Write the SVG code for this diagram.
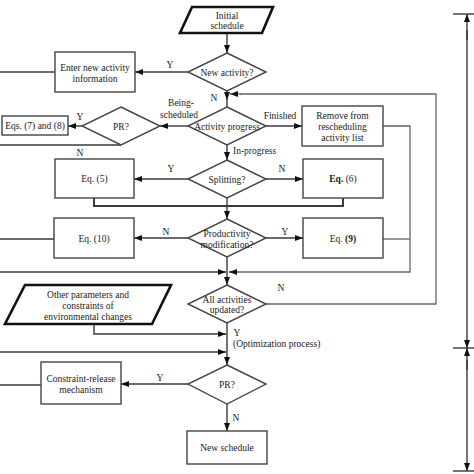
<svg xmlns="http://www.w3.org/2000/svg" width="474" height="474" viewBox="0 0 474 474">
<defs>
<marker id="ah" markerUnits="userSpaceOnUse" markerWidth="9" markerHeight="7" refX="8" refY="3" orient="auto">
<path d="M0,0 L8,3 L0,6 z" fill="#111"/>
</marker>
<style>
text{font-family:"Liberation Serif","Times New Roman",serif;font-size:9.5px;fill:#1a1a1a;text-anchor:middle}
.box{fill:#fff;stroke:#444;stroke-width:1.4}
.io{fill:#fff;stroke:#111;stroke-width:2.6}
.c{fill:none;stroke:#3a3a3a;stroke-width:1.4}
.a{fill:none;stroke:#3a3a3a;stroke-width:1.4;marker-end:url(#ah)}
.g{fill:none;stroke:#666;stroke-width:1.3}
.ga{fill:none;stroke:#666;stroke-width:1.3;marker-end:url(#ah)}
.st{text-anchor:start}
.b{font-weight:bold}
</style>
</defs>
<rect width="474" height="474" fill="#fff"/>

<g id="connectors">
<line class="a" x1="227" y1="33" x2="227" y2="53"/>
<line class="a" x1="188" y1="72" x2="135" y2="72"/>
<line class="c" x1="55" y1="72" x2="0" y2="72"/>
<line class="a" x1="227" y1="91" x2="227" y2="100"/>
<line class="c" x1="227" y1="99" x2="227" y2="107"/>
<line class="a" x1="188" y1="126" x2="160" y2="126"/>
<line class="a" x1="82" y1="126" x2="68" y2="126"/>
<polyline class="c" points="121,145 0,145"/>
<line class="a" x1="266" y1="126" x2="302" y2="126"/>
<polyline class="g" points="383,126 410,126 410,272 235,272"/>
<line class="a" x1="236" y1="272" x2="229" y2="272"/>
<line class="a" x1="0" y1="272" x2="226" y2="272"/>
<line class="a" x1="227" y1="145" x2="227" y2="160"/>
<line class="a" x1="188" y1="179" x2="134" y2="179"/>
<line class="a" x1="266" y1="179" x2="303" y2="179"/>
<polyline class="c" style="stroke-width:2" points="94,198 94,206 343,206 343,198"/>
<line class="a" x1="227" y1="198" x2="227" y2="219"/>
<line class="a" x1="188" y1="238" x2="134" y2="238"/>
<line class="c" x1="54" y1="239" x2="0" y2="239"/>
<line class="a" x1="266" y1="238" x2="303" y2="238"/>
<line class="g" x1="383" y1="239" x2="410" y2="239"/>
<line class="a" x1="227" y1="257" x2="227" y2="285"/>
<polyline class="g" points="266,304 436,304 436,94 240,94"/>
<line class="ga" x1="241" y1="94" x2="230" y2="94"/>
<line class="a" x1="227" y1="323" x2="227" y2="365"/>
<polyline class="a" points="94,324 94,334 226,334"/>
<line class="a" x1="0" y1="352" x2="226" y2="352"/>
<line class="a" x1="188" y1="384" x2="121" y2="384"/>
<line class="c" x1="41" y1="385" x2="0" y2="385"/>
<line class="a" x1="227" y1="404" x2="227" y2="431"/>
<!-- dimension -->
<line class="c" x1="453" y1="14" x2="474" y2="14"/>
<line class="c" x1="453" y1="348" x2="474" y2="348"/>
<line class="c" x1="453" y1="471" x2="474" y2="471"/>
<line class="a" x1="467" y1="40" x2="467" y2="14"/>
<line class="a" x1="467" y1="30" x2="467" y2="348"/>
<line class="a" x1="467" y1="370" x2="467" y2="348"/>
<line class="a" x1="467" y1="360" x2="467" y2="471"/>
</g>

<g id="edge-labels">
<text x="170" y="68">Y</text>
<text x="214" y="100.5">N</text>
<text x="181" y="106">Being-</text>
<text x="179" y="117.5">scheduled</text>
<text x="80" y="120">Y</text>
<text x="80" y="156">N</text>
<text x="280" y="118.5">Finished</text>
<text class="st" x="233" y="153.5">In-progress</text>
<text x="171" y="172">Y</text>
<text x="282" y="172">N</text>
<text x="166" y="235">N</text>
<text x="285" y="234.5">Y</text>
<text x="281" y="291">N</text>
<text x="237" y="335.5">Y</text>
<text class="st" x="233" y="347">(Optimization process)</text>
<text x="160" y="381">Y</text>
<text x="236" y="420.5">N</text>
</g>

<g id="initial-schedule">
<polygon class="io" points="192,7 273,7 262,33 180,33"/>
<text x="227" y="18.5">Initial</text>
<text x="227" y="29">schedule</text>
</g>
<g id="new-activity">
<polygon class="box" points="227,53 266,72 227,91 188,72"/>
<text x="227" y="75.5">New activity?</text>
</g>
<g id="enter-info">
<rect class="box" x="55" y="52" width="80" height="40"/>
<text x="95" y="70.5">Enter new activity</text>
<text x="95" y="82">information</text>
</g>
<g id="activity-progress">
<polygon class="box" points="227,107 266,126 227,145 188,126"/>
<text x="227" y="129.5">Activity progress</text>
</g>
<g id="pr1">
<polygon class="box" points="121,107 160,126 121,145 82,126"/>
<text x="121" y="129.5">PR?</text>
</g>
<g id="eqs78">
<rect class="box" x="2" y="116" width="66" height="19"/>
<text x="35" y="129">Eqs. (7) and (8)</text>
</g>
<g id="remove">
<rect class="box" x="302" y="106" width="81" height="40"/>
<text x="342.5" y="118.5">Remove from</text>
<text x="342.5" y="129.5">rescheduling</text>
<text x="342.5" y="140.5">activity list</text>
</g>
<g id="splitting">
<polygon class="box" points="227,160 266,179 227,198 188,179"/>
<text x="227" y="182.5">Splitting?</text>
</g>
<g id="eq5">
<rect class="box" x="55" y="159" width="79" height="39"/>
<text x="94.5" y="182">Eq. (5)</text>
</g>
<g id="eq6">
<rect class="box" x="303" y="159" width="80" height="39"/>
<text x="343" y="182"><tspan class="b">Eq.</tspan> (6)</text>
</g>
<g id="productivity">
<polygon class="box" points="227,219 266,238 227,257 188,238"/>
<text x="227" y="236.5">Productivity</text>
<text x="227" y="247.5">modification?</text>
</g>
<g id="eq10">
<rect class="box" x="54" y="218" width="80" height="40"/>
<text x="94" y="241.5">Eq. (10)</text>
</g>
<g id="eq9">
<rect class="box" x="303" y="218" width="80" height="40"/>
<text x="343" y="241.5">Eq. <tspan class="b">(9)</tspan></text>
</g>
<g id="all-updated">
<polygon class="box" points="227,285 266,304 227,323 188,304"/>
<text x="227" y="302.5">All activities</text>
<text x="227" y="313">updated?</text>
</g>
<g id="other-params">
<polygon class="io" points="25,285 171,285 152,324 5,324"/>
<text x="88" y="297.5">Other parameters and</text>
<text x="88" y="308.5">constraints of</text>
<text x="88" y="319.5">environmental changes</text>
</g>
<g id="pr2">
<polygon class="box" points="227,365 266,384 227,404 188,384"/>
<text x="227" y="387.5">PR?</text>
</g>
<g id="constraint-release">
<rect class="box" x="41" y="362" width="80" height="42"/>
<text x="81" y="381.5">Constraint-release</text>
<text x="81" y="392.5">mechanism</text>
</g>
<g id="new-schedule">
<rect class="box" x="187" y="431" width="80" height="33"/>
<text x="227" y="450.5">New schedule</text>
</g>
</svg>
